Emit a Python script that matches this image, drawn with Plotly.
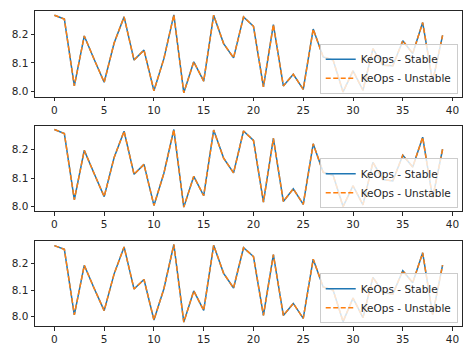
import plotly.graph_objects as go
from plotly.subplots import make_subplots

x_vals = list(range(40))

stable_1 = [8.268, 8.254, 8.019, 8.195, 8.112, 8.032, 8.170, 8.262, 8.110, 8.145,
            8.002, 8.115, 8.269, 7.995, 8.104, 8.036, 8.268, 8.168, 8.118, 8.262,
            8.229, 8.016, 8.235, 8.019, 8.060, 8.007, 8.219, 8.121, 8.110, 7.998,
            8.072, 8.004, 8.150, 8.092, 8.090, 8.178, 8.133, 8.242, 8.034, 8.197]
unstable_1 = [8.268, 8.254, 8.019, 8.195, 8.112, 8.032, 8.170, 8.262, 8.110, 8.145,
              8.002, 8.115, 8.269, 7.995, 8.104, 8.036, 8.268, 8.168, 8.118, 8.262,
              8.229, 8.016, 8.235, 8.019, 8.060, 8.007, 8.219, 8.121, 8.110, 7.998,
              8.072, 8.004, 8.150, 8.092, 8.090, 8.178, 8.133, 8.242, 8.034, 8.197]

stable_2 = [8.270, 8.256, 8.024, 8.197, 8.115, 8.035, 8.172, 8.264, 8.113, 8.148,
            8.004, 8.117, 8.270, 7.998, 8.106, 8.038, 8.268, 8.170, 8.118, 8.265,
            8.232, 8.016, 8.239, 8.018, 8.062, 8.008, 8.220, 8.120, 8.110, 8.000,
            8.073, 8.006, 8.155, 8.095, 8.090, 8.180, 8.139, 8.243, 8.030, 8.201]
unstable_2 = [8.270, 8.256, 8.024, 8.197, 8.115, 8.035, 8.172, 8.264, 8.113, 8.148,
              8.004, 8.117, 8.270, 7.998, 8.106, 8.038, 8.268, 8.170, 8.118, 8.265,
              8.232, 8.016, 8.239, 8.018, 8.062, 8.008, 8.220, 8.120, 8.110, 8.000,
              8.073, 8.006, 8.155, 8.095, 8.090, 8.180, 8.139, 8.243, 8.030, 8.201]

stable_3 = [8.267, 8.253, 8.007, 8.193, 8.106, 8.023, 8.161, 8.262, 8.104, 8.140,
            7.988, 8.105, 8.271, 7.980, 8.097, 8.024, 8.268, 8.163, 8.108, 8.259,
            8.226, 8.005, 8.233, 8.005, 8.050, 7.994, 8.216, 8.112, 8.100, 7.982,
            8.070, 7.997, 8.148, 8.092, 8.085, 8.173, 8.128, 8.240, 8.008, 8.194]
unstable_3 = [8.267, 8.253, 8.007, 8.193, 8.106, 8.023, 8.161, 8.262, 8.104, 8.140,
              7.988, 8.105, 8.271, 7.980, 8.097, 8.024, 8.268, 8.163, 8.108, 8.259,
              8.226, 8.005, 8.233, 8.005, 8.050, 7.994, 8.216, 8.112, 8.100, 7.982,
              8.070, 7.997, 8.148, 8.092, 8.085, 8.173, 8.128, 8.240, 8.008, 8.194]

series_names = ["KeOps - Stable", "KeOps - Unstable"]
x_ticks = [0, 5, 10, 15, 20, 25, 30, 35, 40]
y_ticks = [8.0, 8.1, 8.2]

panels = [(stable_1, unstable_1), (stable_2, unstable_2), (stable_3, unstable_3)]

fig = make_subplots(rows=3, cols=1, vertical_spacing=0.09)

legend_ids = ["legend", "legend2", "legend3"]
domains = [[0.728, 1.0], [0.365, 0.636], [0.0, 0.271]]

FONT = "DejaVu Sans"
for i, (s, u) in enumerate(panels):
    r = i + 1
    fig.add_trace(go.Scatter(x=x_vals, y=s, mode="lines", name=series_names[0],
                             line=dict(color="#1f77b4", width=1.5),
                             legend=legend_ids[i]), row=r, col=1)
    fig.add_trace(go.Scatter(x=x_vals, y=u, mode="lines", name=series_names[1],
                             line=dict(color="#ff7f0e", width=1.5, dash="5px,2.5px"),
                             legend=legend_ids[i]), row=r, col=1)
    lo = min(min(s), min(u))
    hi = max(max(s), max(u))
    pad = (hi - lo) * 0.05
    xpad = (max(x_vals) - min(x_vals)) * 0.05
    axis_common = dict(showline=True, linecolor="#262626", linewidth=1, mirror=True,
                       ticks="outside", ticklen=3.5, tickwidth=1, tickcolor="#262626",
                       showgrid=False, zeroline=False, automargin=False,
                       tickfont=dict(family=FONT, size=10.5, color="#262626"))
    fig.update_xaxes(range=[min(x_vals) - xpad, max(x_vals) + xpad], tickvals=x_ticks,
                     **axis_common, row=r, col=1)
    fig.update_yaxes(range=[lo - pad, hi + pad], tickvals=y_ticks, tickformat=".1f",
                     domain=domains[i], **axis_common, row=r, col=1)

legend_y = [0.737, 0.374, 0.009]
legend_style = dict(bgcolor="rgba(255,255,255,0.8)", bordercolor="#cccccc", borderwidth=1,
                    font=dict(family=FONT, size=10.5, color="#262626"),
                    xanchor="right", yanchor="bottom", x=0.99,
                    tracegroupgap=0, itemwidth=30)
fig.update_layout(
    width=474, height=355,
    margin=dict(l=35, r=12, t=11, b=29),
    paper_bgcolor="white", plot_bgcolor="white",
    showlegend=True,
    legend=dict(y=legend_y[0], **legend_style),
    legend2=dict(y=legend_y[1], **legend_style),
    legend3=dict(y=legend_y[2], **legend_style),
)

fig.write_html("out.html", config={"displayModeBar": False},
               post_script="document.body.style.margin='0px';document.body.style.overflow='hidden';")
